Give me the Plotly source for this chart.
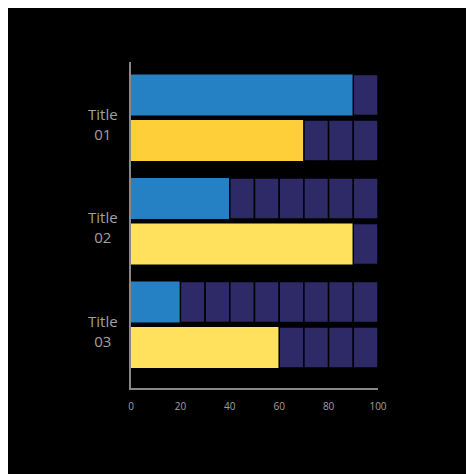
import plotly.graph_objects as go

titles = ["Title<br>01", "Title<br>02", "Title<br>03"]
blue_values = [90, 40, 20]
yellow_values = [70, 90, 60]
x_ticks = [0, 20, 40, 60, 80, 100]
seg_step = 10
x_max = 100

GROUP = 103.5
OFF = 45.5
W = 41
blue_y = [33 + g * GROUP for g in range(3)]
yellow_y = [y + OFF for y in blue_y]

fig = go.Figure()
fig.add_bar(x=blue_values, y=blue_y, orientation="h", width=W, base=0,
            marker=dict(color="#2580c4", line=dict(width=0)))
fig.add_bar(x=yellow_values, y=yellow_y[:1], orientation="h", width=W, base=0,
            marker=dict(color="#ffcf3a", line=dict(width=0)))
fig.add_bar(x=yellow_values[1:], y=yellow_y[1:], orientation="h", width=W, base=0,
            marker=dict(color="#ffe15e", line=dict(width=0)))

sx, sy, sb = [], [], []
for vals, ys in ((blue_values, blue_y), (yellow_values, yellow_y)):
    for v, y in zip(vals, ys):
        b = v
        while b < x_max:
            sx.append(seg_step); sy.append(y); sb.append(b)
            b += seg_step
fig.add_bar(x=sx, y=sy, base=sb, orientation="h", width=W,
            marker=dict(color="#2e2a68", line=dict(color="black", width=1.5)))

for t, b, y in zip(titles, blue_y, yellow_y):
    fig.add_annotation(text=t, xref="paper", x=-28 / 247, xanchor="center",
                       yref="y", y=(b + y) / 2 + 6, yanchor="middle", showarrow=False,
                       align="center", font=dict(size=15, color="#a0a0a0"))

fig.update_layout(
    width=474, height=474, paper_bgcolor="black", plot_bgcolor="black",
    margin=dict(l=123, r=104, t=54, b=94), showlegend=False, barmode="overlay",
    font=dict(family="Open Sans", color="#a0a0a0"),
)
fig.update_xaxes(range=[0, x_max], tickvals=x_ticks, showgrid=False, zeroline=False,
                 showline=True, linecolor="#888", linewidth=1.5, ticks="outside",
                 ticklen=8, tickcolor="black",
                 tickfont=dict(size=10, color="#a0a0a0"))
fig.update_yaxes(range=[326, 0], showticklabels=False, showgrid=False, zeroline=False,
                 showline=True, linecolor="#888", linewidth=1.5, ticks="")
fig.write_html("out.html")
